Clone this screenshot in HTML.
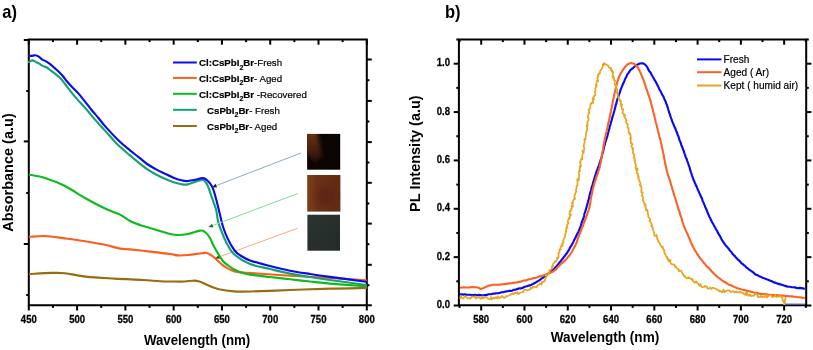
<!DOCTYPE html>
<html><head><meta charset="utf-8"><style>
html,body{margin:0;padding:0;background:#fff;width:813px;height:350px;overflow:hidden}
svg{display:block;will-change:transform}
text{font-family:"Liberation Sans",sans-serif;fill:#000}
.tl{font-size:11.5px;font-weight:bold;text-anchor:middle;stroke:#000;stroke-width:0.3px}
.tl2{font-size:11.5px;font-weight:bold;stroke:#000;stroke-width:0.3px}
.lg{font-size:10.1px;fill:#000;stroke:#000;stroke-width:0.2px}
.lgl{font-size:9.7px;fill:#000;stroke:#000;stroke-width:0.2px}
.b{font-weight:bold}
.sub{font-size:7px}
.axl{font-size:14.5px;font-weight:bold}
.pl{font-size:18px;font-weight:bold}
</style></head><body>
<svg width="813" height="350" viewBox="0 0 813 350">
<path d="M28.8,39.5H366.8V305.3H28.8Z" fill="none" stroke="#000" stroke-width="2" stroke-linecap="square" stroke-linejoin="miter"/>
<line x1="28.80" y1="305.3" x2="28.80" y2="310.5" stroke="#000" stroke-width="2"/>
<line x1="28.80" y1="39.5" x2="28.80" y2="44.7" stroke="#000" stroke-width="2"/>
<text transform="translate(28.80,323.0) scale(0.83,1)" class="tl">450</text>
<line x1="52.94" y1="305.3" x2="52.94" y2="307.90000000000003" stroke="#000" stroke-width="2"/>
<line x1="52.94" y1="39.5" x2="52.94" y2="42.1" stroke="#000" stroke-width="2"/>
<line x1="77.09" y1="305.3" x2="77.09" y2="310.5" stroke="#000" stroke-width="2"/>
<line x1="77.09" y1="39.5" x2="77.09" y2="44.7" stroke="#000" stroke-width="2"/>
<text transform="translate(77.09,323.0) scale(0.83,1)" class="tl">500</text>
<line x1="101.23" y1="305.3" x2="101.23" y2="307.90000000000003" stroke="#000" stroke-width="2"/>
<line x1="101.23" y1="39.5" x2="101.23" y2="42.1" stroke="#000" stroke-width="2"/>
<line x1="125.37" y1="305.3" x2="125.37" y2="310.5" stroke="#000" stroke-width="2"/>
<line x1="125.37" y1="39.5" x2="125.37" y2="44.7" stroke="#000" stroke-width="2"/>
<text transform="translate(125.37,323.0) scale(0.83,1)" class="tl">550</text>
<line x1="149.51" y1="305.3" x2="149.51" y2="307.90000000000003" stroke="#000" stroke-width="2"/>
<line x1="149.51" y1="39.5" x2="149.51" y2="42.1" stroke="#000" stroke-width="2"/>
<line x1="173.66" y1="305.3" x2="173.66" y2="310.5" stroke="#000" stroke-width="2"/>
<line x1="173.66" y1="39.5" x2="173.66" y2="44.7" stroke="#000" stroke-width="2"/>
<text transform="translate(173.66,323.0) scale(0.83,1)" class="tl">600</text>
<line x1="197.80" y1="305.3" x2="197.80" y2="307.90000000000003" stroke="#000" stroke-width="2"/>
<line x1="197.80" y1="39.5" x2="197.80" y2="42.1" stroke="#000" stroke-width="2"/>
<line x1="221.94" y1="305.3" x2="221.94" y2="310.5" stroke="#000" stroke-width="2"/>
<line x1="221.94" y1="39.5" x2="221.94" y2="44.7" stroke="#000" stroke-width="2"/>
<text transform="translate(221.94,323.0) scale(0.83,1)" class="tl">650</text>
<line x1="246.09" y1="305.3" x2="246.09" y2="307.90000000000003" stroke="#000" stroke-width="2"/>
<line x1="246.09" y1="39.5" x2="246.09" y2="42.1" stroke="#000" stroke-width="2"/>
<line x1="270.23" y1="305.3" x2="270.23" y2="310.5" stroke="#000" stroke-width="2"/>
<line x1="270.23" y1="39.5" x2="270.23" y2="44.7" stroke="#000" stroke-width="2"/>
<text transform="translate(270.23,323.0) scale(0.83,1)" class="tl">700</text>
<line x1="294.37" y1="305.3" x2="294.37" y2="307.90000000000003" stroke="#000" stroke-width="2"/>
<line x1="294.37" y1="39.5" x2="294.37" y2="42.1" stroke="#000" stroke-width="2"/>
<line x1="318.51" y1="305.3" x2="318.51" y2="310.5" stroke="#000" stroke-width="2"/>
<line x1="318.51" y1="39.5" x2="318.51" y2="44.7" stroke="#000" stroke-width="2"/>
<text transform="translate(318.51,323.0) scale(0.83,1)" class="tl">750</text>
<line x1="342.66" y1="305.3" x2="342.66" y2="307.90000000000003" stroke="#000" stroke-width="2"/>
<line x1="342.66" y1="39.5" x2="342.66" y2="42.1" stroke="#000" stroke-width="2"/>
<line x1="366.80" y1="305.3" x2="366.80" y2="310.5" stroke="#000" stroke-width="2"/>
<line x1="366.80" y1="39.5" x2="366.80" y2="44.7" stroke="#000" stroke-width="2"/>
<text transform="translate(366.80,323.0) scale(0.83,1)" class="tl">800</text>
<line x1="28.8" y1="40" x2="23.8" y2="40" stroke="#000" stroke-width="2"/>
<line x1="28.8" y1="91" x2="26.2" y2="91" stroke="#000" stroke-width="2"/>
<line x1="28.8" y1="141.4" x2="23.8" y2="141.4" stroke="#000" stroke-width="2"/>
<line x1="28.8" y1="193" x2="26.2" y2="193" stroke="#000" stroke-width="2"/>
<line x1="28.8" y1="244" x2="23.8" y2="244" stroke="#000" stroke-width="2"/>
<line x1="28.8" y1="295" x2="26.2" y2="295" stroke="#000" stroke-width="2"/>
<line x1="366.8" y1="59.5" x2="371.8" y2="59.5" stroke="#000" stroke-width="2"/>
<line x1="366.8" y1="80.2" x2="369.40000000000003" y2="80.2" stroke="#000" stroke-width="2"/>
<line x1="366.8" y1="100.9" x2="371.8" y2="100.9" stroke="#000" stroke-width="2"/>
<line x1="366.8" y1="121.5" x2="369.40000000000003" y2="121.5" stroke="#000" stroke-width="2"/>
<line x1="366.8" y1="142.1" x2="371.8" y2="142.1" stroke="#000" stroke-width="2"/>
<line x1="366.8" y1="162.5" x2="369.40000000000003" y2="162.5" stroke="#000" stroke-width="2"/>
<line x1="366.8" y1="182.8" x2="371.8" y2="182.8" stroke="#000" stroke-width="2"/>
<line x1="366.8" y1="203.5" x2="369.40000000000003" y2="203.5" stroke="#000" stroke-width="2"/>
<line x1="366.8" y1="223.6" x2="371.8" y2="223.6" stroke="#000" stroke-width="2"/>
<line x1="366.8" y1="244.2" x2="369.40000000000003" y2="244.2" stroke="#000" stroke-width="2"/>
<line x1="366.8" y1="264.8" x2="371.8" y2="264.8" stroke="#000" stroke-width="2"/>
<line x1="366.8" y1="285.2" x2="369.40000000000003" y2="285.2" stroke="#000" stroke-width="2"/>
<line x1="366.8" y1="305.3" x2="371.8" y2="305.3" stroke="#000" stroke-width="2"/>
<path d="M29.80,274.00 C33.40,273.82 45.53,273.03 51.40,272.90 C57.27,272.77 59.28,272.58 65.00,273.20 C70.72,273.82 77.48,275.70 85.70,276.60 C93.92,277.50 104.77,278.03 114.30,278.60 C123.83,279.17 135.28,279.57 142.90,280.00 C150.52,280.43 155.10,280.95 160.00,281.20 C164.90,281.45 168.20,281.45 172.30,281.50 C176.40,281.55 181.12,281.63 184.60,281.50 C188.08,281.37 190.73,280.70 193.20,280.70 C195.67,280.70 196.73,280.65 199.40,281.50 C202.07,282.35 205.93,284.50 209.20,285.80 C212.47,287.10 214.90,288.37 219.00,289.30 C223.10,290.23 228.63,291.03 233.80,291.40 C238.97,291.77 240.63,291.73 250.00,291.50 C259.37,291.27 276.67,290.48 290.00,290.00 C303.33,289.52 317.33,288.93 330.00,288.60 C342.67,288.27 360.00,288.10 366.00,288.00" fill="none" stroke="#9a6c10" stroke-width="2.15" stroke-linejoin="round" stroke-linecap="round"/>
<path d="M29.80,236.80 C32.33,236.67 39.13,235.73 45.00,236.00 C50.87,236.27 58.33,237.53 65.00,238.40 C71.67,239.27 78.33,240.13 85.00,241.20 C91.67,242.27 99.17,243.57 105.00,244.80 C110.83,246.03 115.83,247.83 120.00,248.60 C124.17,249.37 125.00,248.90 130.00,249.40 C135.00,249.90 143.33,250.83 150.00,251.60 C156.67,252.37 165.33,253.37 170.00,254.00 C174.67,254.63 175.00,255.23 178.00,255.40 C181.00,255.57 184.00,255.37 188.00,255.00 C192.00,254.63 198.85,253.53 202.00,253.20 C205.15,252.87 204.95,252.37 206.90,253.00 C208.85,253.63 210.85,254.80 213.70,257.00 C216.55,259.20 220.65,263.85 224.00,266.20 C227.35,268.55 230.12,269.98 233.80,271.10 C237.48,272.22 243.40,272.58 246.10,272.90 C248.80,273.22 242.68,272.53 250.00,273.00 C257.32,273.47 276.67,274.88 290.00,275.70 C303.33,276.52 317.33,277.13 330.00,277.90 C342.67,278.67 360.00,279.90 366.00,280.30" fill="none" stroke="#fa5f1e" stroke-width="2.15" stroke-linejoin="round" stroke-linecap="round"/>
<line x1="297.8" y1="228.2" x2="219.33" y2="256.86" stroke="#f4aa8a" stroke-width="1"/><polygon points="215.1,258.4 218.64,254.98 220.01,258.74" fill="#803018"/>
<path d="M29.80,174.80 C32.33,175.33 39.13,176.13 45.00,178.00 C50.87,179.87 58.33,182.67 65.00,186.00 C71.67,189.33 78.33,194.25 85.00,198.00 C91.67,201.75 99.17,205.73 105.00,208.50 C110.83,211.27 115.83,212.52 120.00,214.60 C124.17,216.68 126.67,219.27 130.00,221.00 C133.33,222.73 136.67,223.83 140.00,225.00 C143.33,226.17 146.67,227.00 150.00,228.00 C153.33,229.00 156.67,230.00 160.00,231.00 C163.33,232.00 167.00,233.33 170.00,234.00 C173.00,234.67 175.00,235.00 178.00,235.00 C181.00,235.00 184.33,234.73 188.00,234.00 C191.67,233.27 197.17,230.93 200.00,230.60 C202.83,230.27 203.33,230.77 205.00,232.00 C206.67,233.23 208.55,235.67 210.00,238.00 C211.45,240.33 211.55,242.17 213.70,246.00 C215.85,249.83 220.23,257.58 222.90,261.00 C225.57,264.42 227.80,265.08 229.70,266.50 C231.60,267.92 232.40,268.50 234.30,269.50 C236.20,270.50 238.48,271.65 241.10,272.50 C243.72,273.35 245.18,273.85 250.00,274.60 C254.82,275.35 263.33,276.22 270.00,277.00 C276.67,277.78 283.33,278.55 290.00,279.30 C296.67,280.05 303.33,280.78 310.00,281.50 C316.67,282.22 320.67,282.80 330.00,283.60 C339.33,284.40 360.00,285.85 366.00,286.30" fill="none" stroke="#0cbc1c" stroke-width="2.15" stroke-linejoin="round" stroke-linecap="round"/>
<path d="M29.00,62.10 C29.62,61.82 31.52,60.40 32.70,60.40 C33.88,60.40 34.95,61.52 36.10,62.10 C37.25,62.68 38.45,63.23 39.60,63.90 C40.75,64.57 41.87,65.53 43.00,66.10 C44.13,66.67 45.07,66.53 46.40,67.30 C47.73,68.07 49.47,69.57 51.00,70.70 C52.53,71.83 54.08,72.87 55.60,74.10 C57.12,75.33 58.77,76.77 60.10,78.10 C61.43,79.43 62.55,80.82 63.60,82.10 C64.65,83.38 64.40,83.25 66.40,85.80 C68.40,88.35 72.17,93.37 75.60,97.40 C79.03,101.43 83.88,106.42 87.00,110.00 C90.12,113.58 91.18,115.33 94.30,118.90 C97.42,122.47 101.90,127.22 105.70,131.40 C109.50,135.58 113.05,140.00 117.10,144.00 C121.15,148.00 126.42,152.30 130.00,155.40 C133.58,158.50 135.75,160.32 138.60,162.60 C141.45,164.88 144.25,167.15 147.10,169.10 C149.95,171.05 152.83,172.72 155.70,174.30 C158.57,175.88 161.43,177.32 164.30,178.60 C167.17,179.88 170.05,181.07 172.90,182.00 C175.75,182.93 179.05,183.77 181.40,184.20 C183.75,184.63 184.90,184.92 187.00,184.60 C189.10,184.28 192.08,182.93 194.00,182.30 C195.92,181.67 197.08,181.22 198.50,180.80 C199.92,180.38 201.42,179.72 202.50,179.80 C203.58,179.88 204.08,180.20 205.00,181.30 C205.92,182.40 206.83,183.63 208.00,186.40 C209.17,189.17 210.67,194.08 212.00,197.90 C213.33,201.72 214.98,205.38 216.00,209.30 C217.02,213.22 217.08,217.47 218.10,221.40 C219.12,225.33 220.57,229.08 222.10,232.90 C223.63,236.72 225.27,240.70 227.30,244.30 C229.33,247.90 230.52,251.22 234.30,254.50 C238.08,257.78 244.05,261.58 250.00,264.00 C255.95,266.42 263.33,267.40 270.00,269.00 C276.67,270.60 283.33,272.27 290.00,273.60 C296.67,274.93 303.33,275.93 310.00,277.00 C316.67,278.07 320.67,278.67 330.00,280.00 C339.33,281.33 360.00,284.17 366.00,285.00" fill="none" stroke="#14a274" stroke-width="2.15" stroke-linejoin="round" stroke-linecap="round"/>
<path d="M29.00,55.30 C29.43,55.40 30.60,55.90 31.60,55.90 C32.60,55.90 33.87,55.22 35.00,55.30 C36.13,55.38 37.25,55.73 38.40,56.40 C39.55,57.07 40.57,58.43 41.90,59.30 C43.23,60.17 45.07,60.83 46.40,61.60 C47.73,62.37 48.57,62.85 49.90,63.90 C51.23,64.95 52.88,66.57 54.40,67.90 C55.92,69.23 57.47,70.38 59.00,71.90 C60.53,73.42 62.37,75.52 63.60,77.00 C64.83,78.48 65.00,79.13 66.40,80.80 C67.80,82.47 70.08,84.98 72.00,87.00 C73.92,89.02 75.90,90.68 77.90,92.90 C79.90,95.12 81.72,97.45 84.00,100.30 C86.28,103.15 89.27,107.13 91.60,110.00 C93.93,112.87 95.65,114.68 98.00,117.50 C100.35,120.32 102.13,122.93 105.70,126.90 C109.27,130.87 115.35,137.40 119.40,141.30 C123.45,145.20 126.80,147.67 130.00,150.30 C133.20,152.93 135.75,154.82 138.60,157.10 C141.45,159.38 144.25,162.00 147.10,164.00 C149.95,166.00 152.83,167.53 155.70,169.10 C158.57,170.67 161.43,172.02 164.30,173.40 C167.17,174.78 170.05,176.25 172.90,177.40 C175.75,178.55 179.05,179.68 181.40,180.30 C183.75,180.92 184.90,181.15 187.00,181.10 C189.10,181.05 191.42,180.50 194.00,180.00 C196.58,179.50 200.45,178.17 202.50,178.10 C204.55,178.03 205.15,178.85 206.30,179.60 C207.45,180.35 208.30,181.15 209.40,182.60 C210.50,184.05 211.75,185.45 212.90,188.30 C214.05,191.15 215.17,195.52 216.30,199.70 C217.43,203.88 218.57,208.85 219.70,213.40 C220.83,217.95 221.77,222.80 223.10,227.00 C224.43,231.20 225.78,234.68 227.70,238.60 C229.62,242.52 232.55,247.73 234.60,250.50 C236.65,253.27 237.43,253.55 240.00,255.20 C242.57,256.85 245.00,258.60 250.00,260.40 C255.00,262.20 263.33,264.28 270.00,266.00 C276.67,267.72 283.33,269.37 290.00,270.70 C296.67,272.03 303.33,272.97 310.00,274.00 C316.67,275.03 320.67,275.62 330.00,276.90 C339.33,278.18 360.00,280.90 366.00,281.70" fill="none" stroke="#0c0ce8" stroke-width="2.15" stroke-linejoin="round" stroke-linecap="round"/>
<line x1="301" y1="153" x2="216.30" y2="185.58" stroke="#8eaac4" stroke-width="1"/><polygon points="212.1,187.2 215.58,183.72 217.02,187.45" fill="#202050"/>
<line x1="297.8" y1="193.5" x2="212.71" y2="225.52" stroke="#80dc98" stroke-width="1"/><polygon points="208.5,227.1 212.01,223.64 213.42,227.39" fill="#206838"/>
<defs>
<linearGradient id="g1" x1="0" y1="0" x2="1" y2="0.3"><stop offset="0" stop-color="#6e3a12"/><stop offset="0.35" stop-color="#4a2208"/><stop offset="0.55" stop-color="#160804"/><stop offset="1" stop-color="#0a0403"/></linearGradient>
<linearGradient id="g2" x1="0" y1="0" x2="1" y2="1"><stop offset="0" stop-color="#8a4816"/><stop offset="0.5" stop-color="#7a3814"/><stop offset="1" stop-color="#6e2c10"/></linearGradient>
<linearGradient id="g3" x1="0" y1="0" x2="1" y2="1"><stop offset="0" stop-color="#2c3431"/><stop offset="1" stop-color="#232a28"/></linearGradient>
<filter id="bl"><feGaussianBlur stdDeviation="2"/></filter>
</defs>
<clipPath id="c1"><rect x="307.1" y="133.9" width="33.1" height="35.8"/></clipPath>
<clipPath id="c2"><rect x="307.2" y="175" width="33.2" height="36.6"/></clipPath>
<linearGradient id="w1" x1="0" y1="0" x2="0" y2="1"><stop offset="0" stop-color="#6c3612"/><stop offset="0.6" stop-color="#4a200c"/><stop offset="1" stop-color="#1e0c06"/></linearGradient>
<linearGradient id="p2" x1="0" y1="0" x2="1" y2="0"><stop offset="0" stop-color="#7e4216"/><stop offset="0.3" stop-color="#6c3218"/><stop offset="1" stop-color="#622a14"/></linearGradient>
<filter id="bl2" x="-50%" y="-50%" width="200%" height="200%"><feGaussianBlur stdDeviation="2.2"/></filter>
<filter id="bl3" x="-50%" y="-50%" width="200%" height="200%"><feGaussianBlur stdDeviation="3"/></filter>
<rect x="307.1" y="133.9" width="33.1" height="35.8" fill="#0a0504"/>
<g clip-path="url(#c1)"><polygon points="303,130 317,130 322,157 314,163 303,150" fill="url(#w1)" filter="url(#bl2)"/></g>
<rect x="307.2" y="175" width="33.2" height="36.6" fill="url(#p2)"/>
<g clip-path="url(#c2)"><ellipse cx="326" cy="196" rx="9" ry="10" fill="#5a2412" opacity="0.7" filter="url(#bl3)"/></g>
<rect x="307.4" y="214.7" width="32.6" height="36" fill="url(#g3)"/>
<line x1="173" y1="62.5" x2="196.8" y2="62.5" stroke="#0c0ce8" stroke-width="2"/>
<line x1="173" y1="77.9" x2="196.8" y2="77.9" stroke="#fa5f1e" stroke-width="2"/>
<line x1="173" y1="93.8" x2="196.8" y2="93.8" stroke="#0cbc1c" stroke-width="2"/>
<line x1="173" y1="109.8" x2="196.8" y2="109.8" stroke="#14a274" stroke-width="2"/>
<line x1="173" y1="126" x2="196.8" y2="126" stroke="#9a6c10" stroke-width="2"/>
<text x="199" y="66.4" class="lgl"><tspan class="b">Cl:CsPbI</tspan><tspan class="b sub" dy="3.4">2</tspan><tspan class="b" dy="-3.4">Br</tspan>-Fresh</text>
<text x="199" y="82" class="lgl"><tspan class="b">Cl:CsPbI</tspan><tspan class="b sub" dy="3.4">2</tspan><tspan class="b" dy="-3.4">Br</tspan>- Aged</text>
<text x="199" y="97.5" class="lgl"><tspan class="b">Cl:CsPbI</tspan><tspan class="b sub" dy="3.4">2</tspan><tspan class="b" dy="-3.4">Br</tspan> -Recovered</text>
<text x="207" y="113.8" class="lgl"><tspan class="b">CsPbI</tspan><tspan class="b sub" dy="3.4">2</tspan><tspan class="b" dy="-3.4">Br</tspan>- Fresh</text>
<text x="207" y="129.5" class="lgl"><tspan class="b">CsPbI</tspan><tspan class="b sub" dy="3.4">2</tspan><tspan class="b" dy="-3.4">Br</tspan>- Aged</text>
<text transform="translate(197.1,345.3) scale(0.915,1)" class="axl" text-anchor="middle">Wavelength (nm)</text>
<text transform="translate(13.3,172.5) rotate(-90)" class="axl" text-anchor="middle">Absorbance (a.u)</text>
<text transform="translate(2.3,17.6) scale(0.92,1)" class="pl">a)</text>
<path d="M458.9,39.5H806.2V305.3H458.9Z" fill="none" stroke="#000" stroke-width="2" stroke-linecap="square" stroke-linejoin="miter"/>
<line x1="459.56" y1="305.3" x2="459.56" y2="307.90000000000003" stroke="#000" stroke-width="2"/>
<line x1="459.56" y1="39.5" x2="459.56" y2="42.1" stroke="#000" stroke-width="2"/>
<line x1="481.20" y1="305.3" x2="481.20" y2="310.5" stroke="#000" stroke-width="2"/>
<line x1="481.20" y1="39.5" x2="481.20" y2="44.7" stroke="#000" stroke-width="2"/>
<text transform="translate(481.20,323.0) scale(0.83,1)" class="tl">580</text>
<line x1="502.84" y1="305.3" x2="502.84" y2="307.90000000000003" stroke="#000" stroke-width="2"/>
<line x1="502.84" y1="39.5" x2="502.84" y2="42.1" stroke="#000" stroke-width="2"/>
<line x1="524.48" y1="305.3" x2="524.48" y2="310.5" stroke="#000" stroke-width="2"/>
<line x1="524.48" y1="39.5" x2="524.48" y2="44.7" stroke="#000" stroke-width="2"/>
<text transform="translate(524.48,323.0) scale(0.83,1)" class="tl">600</text>
<line x1="546.12" y1="305.3" x2="546.12" y2="307.90000000000003" stroke="#000" stroke-width="2"/>
<line x1="546.12" y1="39.5" x2="546.12" y2="42.1" stroke="#000" stroke-width="2"/>
<line x1="567.76" y1="305.3" x2="567.76" y2="310.5" stroke="#000" stroke-width="2"/>
<line x1="567.76" y1="39.5" x2="567.76" y2="44.7" stroke="#000" stroke-width="2"/>
<text transform="translate(567.76,323.0) scale(0.83,1)" class="tl">620</text>
<line x1="589.40" y1="305.3" x2="589.40" y2="307.90000000000003" stroke="#000" stroke-width="2"/>
<line x1="589.40" y1="39.5" x2="589.40" y2="42.1" stroke="#000" stroke-width="2"/>
<line x1="611.04" y1="305.3" x2="611.04" y2="310.5" stroke="#000" stroke-width="2"/>
<line x1="611.04" y1="39.5" x2="611.04" y2="44.7" stroke="#000" stroke-width="2"/>
<text transform="translate(611.04,323.0) scale(0.83,1)" class="tl">640</text>
<line x1="632.68" y1="305.3" x2="632.68" y2="307.90000000000003" stroke="#000" stroke-width="2"/>
<line x1="632.68" y1="39.5" x2="632.68" y2="42.1" stroke="#000" stroke-width="2"/>
<line x1="654.32" y1="305.3" x2="654.32" y2="310.5" stroke="#000" stroke-width="2"/>
<line x1="654.32" y1="39.5" x2="654.32" y2="44.7" stroke="#000" stroke-width="2"/>
<text transform="translate(654.32,323.0) scale(0.83,1)" class="tl">660</text>
<line x1="675.96" y1="305.3" x2="675.96" y2="307.90000000000003" stroke="#000" stroke-width="2"/>
<line x1="675.96" y1="39.5" x2="675.96" y2="42.1" stroke="#000" stroke-width="2"/>
<line x1="697.60" y1="305.3" x2="697.60" y2="310.5" stroke="#000" stroke-width="2"/>
<line x1="697.60" y1="39.5" x2="697.60" y2="44.7" stroke="#000" stroke-width="2"/>
<text transform="translate(697.60,323.0) scale(0.83,1)" class="tl">680</text>
<line x1="719.24" y1="305.3" x2="719.24" y2="307.90000000000003" stroke="#000" stroke-width="2"/>
<line x1="719.24" y1="39.5" x2="719.24" y2="42.1" stroke="#000" stroke-width="2"/>
<line x1="740.88" y1="305.3" x2="740.88" y2="310.5" stroke="#000" stroke-width="2"/>
<line x1="740.88" y1="39.5" x2="740.88" y2="44.7" stroke="#000" stroke-width="2"/>
<text transform="translate(740.88,323.0) scale(0.83,1)" class="tl">700</text>
<line x1="762.52" y1="305.3" x2="762.52" y2="307.90000000000003" stroke="#000" stroke-width="2"/>
<line x1="762.52" y1="39.5" x2="762.52" y2="42.1" stroke="#000" stroke-width="2"/>
<line x1="784.16" y1="305.3" x2="784.16" y2="310.5" stroke="#000" stroke-width="2"/>
<line x1="784.16" y1="39.5" x2="784.16" y2="44.7" stroke="#000" stroke-width="2"/>
<text transform="translate(784.16,323.0) scale(0.83,1)" class="tl">720</text>
<line x1="805.80" y1="305.3" x2="805.80" y2="307.90000000000003" stroke="#000" stroke-width="2"/>
<line x1="805.80" y1="39.5" x2="805.80" y2="42.1" stroke="#000" stroke-width="2"/>
<line x1="458.9" y1="305.50" x2="453.7" y2="305.50" stroke="#000" stroke-width="2"/>
<line x1="806.2" y1="305.50" x2="811.4000000000001" y2="305.50" stroke="#000" stroke-width="2"/>
<text transform="translate(450,308.10) scale(0.83,1)" class="tl2" text-anchor="end">0.0</text>
<line x1="458.9" y1="281.32" x2="456.29999999999995" y2="281.32" stroke="#000" stroke-width="2"/>
<line x1="806.2" y1="281.32" x2="808.8000000000001" y2="281.32" stroke="#000" stroke-width="2"/>
<line x1="458.9" y1="257.14" x2="453.7" y2="257.14" stroke="#000" stroke-width="2"/>
<line x1="806.2" y1="257.14" x2="811.4000000000001" y2="257.14" stroke="#000" stroke-width="2"/>
<text transform="translate(450,259.74) scale(0.83,1)" class="tl2" text-anchor="end">0.2</text>
<line x1="458.9" y1="232.96" x2="456.29999999999995" y2="232.96" stroke="#000" stroke-width="2"/>
<line x1="806.2" y1="232.96" x2="808.8000000000001" y2="232.96" stroke="#000" stroke-width="2"/>
<line x1="458.9" y1="208.78" x2="453.7" y2="208.78" stroke="#000" stroke-width="2"/>
<line x1="806.2" y1="208.78" x2="811.4000000000001" y2="208.78" stroke="#000" stroke-width="2"/>
<text transform="translate(450,211.38) scale(0.83,1)" class="tl2" text-anchor="end">0.4</text>
<line x1="458.9" y1="184.60" x2="456.29999999999995" y2="184.60" stroke="#000" stroke-width="2"/>
<line x1="806.2" y1="184.60" x2="808.8000000000001" y2="184.60" stroke="#000" stroke-width="2"/>
<line x1="458.9" y1="160.42" x2="453.7" y2="160.42" stroke="#000" stroke-width="2"/>
<line x1="806.2" y1="160.42" x2="811.4000000000001" y2="160.42" stroke="#000" stroke-width="2"/>
<text transform="translate(450,163.02) scale(0.83,1)" class="tl2" text-anchor="end">0.6</text>
<line x1="458.9" y1="136.24" x2="456.29999999999995" y2="136.24" stroke="#000" stroke-width="2"/>
<line x1="806.2" y1="136.24" x2="808.8000000000001" y2="136.24" stroke="#000" stroke-width="2"/>
<line x1="458.9" y1="112.06" x2="453.7" y2="112.06" stroke="#000" stroke-width="2"/>
<line x1="806.2" y1="112.06" x2="811.4000000000001" y2="112.06" stroke="#000" stroke-width="2"/>
<text transform="translate(450,114.66) scale(0.83,1)" class="tl2" text-anchor="end">0.8</text>
<line x1="458.9" y1="87.88" x2="456.29999999999995" y2="87.88" stroke="#000" stroke-width="2"/>
<line x1="806.2" y1="87.88" x2="808.8000000000001" y2="87.88" stroke="#000" stroke-width="2"/>
<line x1="458.9" y1="63.70" x2="453.7" y2="63.70" stroke="#000" stroke-width="2"/>
<line x1="806.2" y1="63.70" x2="811.4000000000001" y2="63.70" stroke="#000" stroke-width="2"/>
<text transform="translate(450,66.30) scale(0.83,1)" class="tl2" text-anchor="end">1.0</text>
<line x1="458.9" y1="39.52" x2="456.29999999999995" y2="39.52" stroke="#000" stroke-width="2"/>
<line x1="806.2" y1="39.52" x2="808.8000000000001" y2="39.52" stroke="#000" stroke-width="2"/>
<polyline points="459.9,294.3 460.9,294.4 462.1,294.2 463.2,294.6 464.7,294.4 466.5,294.6 468.2,294.7 469.9,294.7 471.7,295.1 473.5,295.1 475.4,294.9 477.2,295.2 478.8,294.9 480.6,295.1 482.1,295.3 483.7,295.2 485.2,295.0 486.8,294.9 488.4,294.3 489.7,294.2 491.4,294.1 492.8,293.8 494.2,293.6 495.6,293.4 497.1,293.3 498.6,293.1 500.1,292.8 501.6,292.2 503.2,292.3 504.8,291.8 506.3,291.4 507.9,291.3 509.3,290.8 510.9,290.9 512.3,290.5 513.9,289.8 515.4,289.7 517.1,289.0 518.5,288.6 519.9,288.3 521.4,288.3 522.8,287.9 524.1,287.0 525.7,286.5 527.0,286.2 528.6,285.6 529.9,285.4 531.4,284.8 533.0,283.9 534.3,283.2 535.7,282.5 537.0,281.7 538.5,280.8 539.8,280.0 541.2,278.8 542.8,277.9 544.1,276.7 545.4,275.9 546.7,274.9 548.1,273.7 549.3,272.9 550.4,272.0 551.5,271.3 552.8,269.7 554.2,269.0 555.2,267.6 556.3,266.5 557.1,265.4 558.0,264.5 558.9,263.2 560.1,261.8 561.0,261.0 561.8,259.6 562.9,258.5 563.6,257.4 564.7,256.0 565.6,254.8 566.7,253.5 567.7,251.8 568.6,250.4 569.3,249.2 569.9,247.8 570.6,246.6 571.4,245.7 572.0,244.1 572.9,242.9 573.6,241.4 574.2,239.9 575.1,238.5 575.7,237.1 576.4,235.7 577.2,234.1 577.7,233.1 578.5,231.7 579.0,230.3 579.7,228.5 580.2,227.4 580.8,225.8 581.2,224.2 581.7,222.6 582.2,221.3 582.8,219.7 583.2,218.6 583.7,217.3 584.1,215.7 584.3,214.3 584.8,212.7 585.3,211.4 585.7,210.2 586.2,208.3 586.6,207.0 587.1,205.4 587.5,203.5 587.9,202.2 588.2,200.7 588.8,199.1 589.2,197.2 589.5,196.1 589.8,194.3 590.2,192.9 590.7,191.4 591.2,189.5 591.5,188.0 592.0,186.3 592.6,185.1 592.9,183.4 593.4,181.7 593.8,180.3 594.4,178.7 594.7,177.1 595.2,175.8 595.8,174.2 596.1,172.6 596.7,171.3 597.3,169.7 597.8,168.4 598.3,166.9 598.8,165.6 599.3,164.2 599.8,162.6 600.3,161.5 600.6,160.0 601.1,158.8 601.6,157.2 601.9,156.3 602.1,155.0 602.3,153.9 602.8,152.6 603.3,150.9 603.7,148.9 604.2,146.6 604.5,145.3 605.0,144.0 605.2,142.7 605.8,141.3 606.0,140.2 606.5,138.6 607.1,137.0 607.6,135.2 608.0,133.2 608.5,131.8 608.9,129.9 609.4,128.6 609.7,126.6 610.3,125.2 610.7,123.2 611.1,121.9 611.7,120.2 612.0,118.8 612.4,117.4 612.7,116.2 613.2,115.0 613.8,112.6 614.3,111.0 614.7,109.2 615.1,107.7 615.6,106.1 615.7,105.0 616.3,103.7 616.5,102.5 616.9,100.9 617.3,99.6 617.8,98.0 618.4,96.8 618.8,95.2 619.4,93.7 620.0,91.9 620.4,90.3 621.0,89.0 621.5,87.6 622.0,86.5 622.5,85.2 623.2,83.5 623.9,82.0 624.6,80.4 625.1,79.0 625.9,77.5 626.5,76.5 627.1,74.9 627.6,74.0 628.8,72.6 629.8,70.9 630.6,69.8 631.7,69.0 633.0,68.1 634.1,67.0 635.5,65.8 637.1,64.7 638.3,64.3 639.6,63.5 641.6,63.3 643.1,63.4 644.9,64.4 645.7,65.3 646.7,66.4 647.5,67.6 648.2,69.3 649.1,70.9 650.1,71.9 651.0,73.4 651.8,75.0 652.5,76.3 653.4,77.8 654.2,79.3 655.2,80.8 655.8,81.9 656.6,83.4 657.4,85.1 658.1,86.3 658.9,88.1 659.5,89.7 660.3,90.8 661.1,92.2 661.7,93.8 662.4,95.0 663.2,96.2 663.8,97.5 664.5,99.5 665.5,101.3 665.9,102.4 666.3,103.8 667.0,105.1 667.4,106.7 668.0,108.4 668.4,110.0 669.0,111.8 669.5,113.5 670.0,114.8 670.5,116.3 671.1,118.1 671.5,119.2 672.0,120.7 672.7,122.5 673.3,123.7 673.7,125.0 674.3,126.4 674.7,127.4 675.4,128.6 676.0,130.5 676.7,131.9 677.1,133.2 677.6,134.7 678.1,135.7 678.7,137.2 679.1,138.8 679.5,140.3 680.2,141.6 680.8,143.1 681.2,144.6 681.7,146.1 682.4,147.5 682.9,149.2 683.5,150.1 684.0,151.9 684.4,153.3 685.0,154.7 685.6,156.6 686.1,158.0 686.7,159.1 687.2,160.8 687.8,162.3 688.2,163.5 688.7,165.2 689.2,166.3 689.7,167.9 690.0,169.2 690.5,170.7 690.9,172.3 691.5,173.7 691.9,175.3 692.4,176.7 693.1,178.2 693.6,180.2 694.3,181.2 694.7,182.6 695.4,183.8 695.8,185.2 696.7,186.6 697.2,188.1 697.8,189.5 698.5,191.0 699.1,192.4 699.8,194.1 700.4,195.3 701.1,196.9 701.8,198.1 702.3,199.7 702.8,201.5 703.5,202.5 704.1,204.1 704.8,205.6 705.2,206.9 706.0,208.5 706.6,210.0 707.1,211.2 707.5,212.5 708.2,213.9 708.6,214.8 709.5,217.0 710.2,218.1 710.7,219.5 711.4,220.8 712.1,222.4 713.0,223.5 713.7,225.0 714.5,226.6 715.3,227.7 716.0,229.4 717.0,230.6 717.7,232.4 718.4,233.6 719.3,235.1 720.2,236.3 720.8,237.8 721.4,239.0 722.1,240.2 723.0,241.6 724.4,243.6 725.0,244.4 726.0,245.8 727.0,246.9 728.0,248.0 729.1,249.3 730.2,251.0 731.4,252.0 732.4,253.8 733.7,255.1 734.9,256.1 735.9,257.5 736.8,258.4 737.6,259.3 739.3,260.7 740.5,262.0 741.6,263.4 742.8,264.1 743.9,265.3 745.1,265.9 746.2,267.3 747.5,268.2 748.8,269.3 750.2,270.4 751.5,271.1 752.6,272.0 753.9,272.9 754.8,274.0 756.7,275.1 758.2,275.6 759.9,276.6 761.3,277.1 762.6,277.8 763.9,278.3 765.5,278.7 767.4,279.6 768.6,280.0 769.9,280.6 771.3,281.0 772.7,281.8 774.1,282.4 775.8,282.9 777.3,283.6 778.6,283.9 780.4,284.4 781.8,284.7 783.3,285.2 785.1,285.9 786.7,286.4 788.3,286.7 790.1,286.8 791.6,287.2 793.2,287.2 794.9,287.4 796.6,287.9 798.2,288.1 799.9,287.9 801.6,288.1 802.9,288.4 804.0,288.6 804.9,288.6" fill="none" stroke="#0a0af2" stroke-width="2.15" stroke-linejoin="round"/>
<polyline points="460.0,287.8 461.1,287.6 462.3,287.5 464.0,287.3 465.7,287.5 467.7,287.5 469.7,287.4 471.5,287.1 473.2,287.1 474.8,287.2 476.0,287.3 478.5,287.7 479.9,288.7 481.0,288.9 483.0,288.3 484.9,287.4 486.3,286.7 487.6,286.1 489.3,285.6 491.1,285.3 492.4,284.8 493.7,284.7 495.2,284.8 496.7,284.8 498.3,284.6 499.9,284.7 501.6,284.3 503.3,284.2 505.2,284.0 506.9,283.9 508.4,283.4 510.1,283.4 511.7,283.2 513.1,282.9 514.5,282.6 517.0,282.5 518.3,282.0 519.6,281.9 521.0,281.4 522.5,281.0 524.1,280.5 525.9,280.4 527.6,279.8 529.3,279.3 531.1,278.9 532.8,278.3 534.3,278.0 535.9,277.7 537.6,277.3 539.2,276.4 540.9,276.2 542.6,275.6 544.3,275.3 545.7,274.7 547.3,274.1 548.9,273.7 550.2,272.9 551.5,272.3 553.1,271.6 554.4,270.4 555.8,269.6 556.7,268.3 557.7,267.1 558.8,266.3 559.9,264.9 561.0,263.8 562.2,263.1 563.4,262.1 564.5,260.8 565.5,260.1 566.5,258.8 567.6,257.6 568.6,256.3 569.5,255.4 570.4,254.0 571.4,252.5 572.3,250.9 573.1,249.2 574.0,247.7 574.7,246.6 575.5,244.9 576.2,243.6 576.6,242.3 577.0,241.5 577.4,239.8 578.0,238.0 579.0,235.9 579.3,234.5 579.9,233.7 580.4,232.1 580.8,231.0 581.4,229.5 582.0,227.7 582.6,226.5 583.3,224.8 583.8,223.2 584.5,221.5 585.1,219.8 585.7,218.5 586.3,216.6 586.9,215.4 587.3,213.7 587.7,212.3 588.3,211.1 588.7,209.8 589.1,208.1 589.7,206.3 590.0,204.4 590.3,202.7 590.5,201.4 590.6,200.1 590.8,198.7 591.1,197.2 591.4,195.7 591.9,194.3 592.2,192.7 592.4,191.2 592.8,189.3 593.3,187.9 593.6,186.3 594.0,184.9 594.5,183.0 595.0,181.5 595.5,179.9 595.9,178.5 596.3,177.0 597.0,175.7 597.4,174.3 598.0,172.8 598.5,170.9 599.0,169.5 599.5,167.7 600.0,165.6 600.2,164.4 600.5,163.1 600.9,161.9 601.1,160.3 601.3,158.9 601.6,157.4 601.8,156.0 602.1,154.4 602.4,153.2 602.6,151.6 602.9,150.1 603.2,148.3 603.4,146.6 603.8,145.1 604.0,143.7 604.3,141.9 604.7,140.6 604.8,138.9 605.2,137.4 605.6,135.9 605.8,134.5 606.2,132.9 606.6,131.4 606.9,129.6 607.4,128.3 607.6,126.6 608.0,125.3 608.2,123.3 608.7,122.0 609.1,120.6 609.3,119.0 609.6,117.8 609.9,116.3 610.1,115.1 610.5,113.3 611.0,111.4 611.2,109.6 611.6,108.2 611.9,106.4 612.3,105.0 612.5,103.3 612.7,102.1 613.0,100.5 613.4,99.0 613.7,97.8 614.1,96.2 614.3,94.3 614.7,92.7 615.1,91.2 615.5,89.5 616.0,87.6 616.4,86.1 616.7,84.4 617.0,83.0 617.5,81.7 618.0,80.1 618.3,79.0 618.9,76.9 619.7,75.5 620.4,73.9 621.1,72.7 621.9,71.5 622.6,70.3 623.6,69.0 624.5,67.7 625.6,66.3 626.7,65.3 627.7,64.2 629.5,63.6 631.2,63.0 632.9,63.4 634.2,63.7 635.5,65.0 636.7,66.3 638.0,67.8 638.7,68.9 639.3,70.2 639.8,71.4 640.6,72.8 641.2,74.4 641.8,75.8 642.5,77.5 643.0,78.8 643.7,80.4 644.1,82.1 644.8,83.6 645.4,85.5 645.9,87.0 646.3,88.8 647.0,90.3 647.5,91.9 647.9,93.3 648.3,94.4 649.0,96.4 649.4,97.3 650.2,100.0 650.5,101.0 650.9,102.0 651.1,103.5 651.5,104.9 651.9,106.2 652.3,108.1 652.8,109.6 653.1,111.0 653.5,112.8 654.1,114.5 654.5,116.3 654.8,118.0 655.3,119.6 655.6,121.3 655.9,122.8 656.5,124.5 656.8,126.1 657.1,127.5 657.6,128.9 657.9,130.7 658.3,132.1 658.7,133.6 659.1,135.1 659.5,136.7 659.9,138.1 660.3,139.6 660.7,141.0 661.0,142.7 661.3,144.0 661.6,145.8 662.0,147.4 662.4,149.0 662.8,150.5 663.0,151.9 663.4,153.9 663.8,155.3 663.9,157.2 664.3,158.7 664.6,160.1 664.9,161.9 665.2,163.2 665.4,164.8 665.8,166.0 665.9,167.2 666.4,168.6 666.8,170.9 667.3,172.3 667.7,173.5 668.0,175.0 668.4,176.1 669.0,177.8 669.8,179.8 670.1,181.2 670.5,182.5 670.9,183.9 671.3,185.5 671.9,187.1 672.3,188.8 672.8,190.5 673.4,192.3 673.9,193.9 674.3,195.5 674.9,197.1 675.4,198.7 675.9,200.3 676.3,201.8 676.6,202.9 677.2,204.8 677.8,206.7 678.2,208.5 678.7,209.8 679.1,210.9 679.7,212.2 679.9,213.9 680.3,215.0 681.0,216.7 681.6,218.5 681.9,220.1 682.4,221.8 683.1,223.5 683.5,225.1 684.1,226.4 684.7,227.8 685.3,229.3 685.9,230.9 686.6,232.3 687.2,233.4 687.9,235.0 688.5,236.4 689.1,237.7 689.7,239.3 690.3,240.5 690.7,242.2 691.5,243.5 692.1,245.0 692.8,246.4 693.6,247.7 694.4,249.4 695.2,250.8 696.1,252.1 697.0,253.7 698.0,255.0 698.8,256.3 699.8,257.8 701.1,259.4 702.1,260.6 703.1,261.9 704.2,263.2 705.1,264.3 706.2,265.7 707.1,266.7 708.7,267.9 709.5,268.8 710.3,269.8 711.4,271.0 712.6,272.2 713.6,273.5 714.8,274.5 716.0,275.6 717.0,276.6 718.6,277.9 720.0,278.7 721.5,280.0 722.9,281.0 724.2,281.8 725.8,282.4 727.2,283.6 728.5,284.4 730.1,284.9 731.4,285.5 732.9,286.3 734.3,286.9 735.8,287.4 737.1,288.2 738.6,288.5 740.1,288.9 741.4,289.5 742.8,289.7 744.7,290.1 746.4,290.6 748.0,290.9 749.7,291.4 751.4,291.7 753.1,292.2 755.0,292.7 756.7,292.8 758.3,293.3 759.9,293.9 761.6,294.1 762.8,294.0 764.4,294.1 767.4,294.4 768.3,294.8 769.6,294.9 771.0,294.9 772.4,295.1 774.0,295.0 775.7,295.2 777.3,295.1 779.1,295.2 780.9,295.5 782.4,295.6 784.1,295.7 785.8,295.9 787.3,296.0 788.8,296.3 790.1,296.4 792.0,296.3 793.8,296.8 795.6,296.8 797.3,297.2 799.0,297.3 800.5,297.3 801.9,297.7 803.1,297.8 804.1,298.1 804.9,298.3" fill="none" stroke="#fa6226" stroke-width="2.1" stroke-linejoin="round"/>
<polyline points="459.4,298.3 460.1,298.1 460.9,295.8 462.2,298.3 463.6,298.5 464.8,295.9 464.9,296.1 466.6,297.3 467.8,298.4 469.4,298.1 470.5,297.7 470.5,298.9 471.8,296.4 474.2,297.1 475.3,296.3 475.8,298.5 476.8,297.9 479.4,297.0 480.2,298.7 481.2,298.8 482.3,296.4 482.7,298.1 485.2,297.1 485.8,296.8 487.4,297.9 488.0,298.6 488.5,298.8 490.7,299.2 491.0,297.2 491.9,299.3 493.4,297.6 494.6,298.5 495.4,297.3 497.2,298.6 497.5,296.3 499.6,298.3 500.2,297.1 501.9,297.0 501.9,295.8 503.2,297.1 504.4,298.0 506.0,296.2 507.1,296.4 508.2,295.8 509.1,295.5 510.8,294.2 511.8,294.3 513.0,293.2 513.6,294.1 515.1,293.0 515.5,292.4 517.1,293.5 517.3,292.0 518.7,294.1 520.3,292.5 521.2,292.5 523.2,292.2 523.1,291.1 525.1,289.5 526.8,290.0 527.1,290.6 528.7,289.8 530.2,289.5 530.5,287.7 531.8,288.3 532.7,288.0 532.7,286.6 533.8,286.5 536.4,287.4 536.6,287.2 538.2,284.6 539.2,284.6 540.3,283.7 539.9,283.4 541.6,284.5 542.0,281.5 542.5,282.4 542.6,282.2 544.6,281.2 545.1,279.2 546.3,276.9 546.0,275.3 546.3,276.6 546.8,275.4 547.8,274.9 549.0,273.2 549.7,270.1 549.4,270.1 550.2,270.0 551.5,269.2 552.2,268.0 551.8,266.5 553.0,266.5 553.0,264.0 554.0,262.8 555.0,261.2 555.2,261.8 555.0,261.2 556.0,261.5 557.2,259.2 557.6,259.2 556.9,257.9 558.4,257.4 558.7,254.3 558.2,254.0 558.6,253.1 559.5,252.2 559.6,249.4 560.8,249.5 560.3,248.2 560.9,247.2 561.5,245.0 562.6,245.9 562.7,243.0 562.2,243.4 563.7,241.9 563.1,240.7 563.9,238.7 564.3,238.0 564.6,237.9 565.4,234.8 565.0,236.3 565.4,234.0 566.0,231.0 566.2,231.8 566.1,229.6 566.4,227.9 566.5,227.2 567.4,227.9 567.0,226.8 567.2,224.8 567.2,224.6 568.5,223.1 567.8,222.1 568.1,220.2 569.2,217.5 569.4,219.1 570.0,216.3 570.5,215.5 570.9,214.3 569.6,215.1 569.6,211.8 570.8,210.3 570.8,211.1 571.1,208.6 571.6,209.2 571.7,207.6 571.6,205.8 573.1,206.5 571.9,202.9 572.7,203.6 573.1,200.3 574.4,198.9 575.1,198.5 575.2,198.7 574.3,197.5 574.9,194.7 574.5,195.2 575.6,192.8 576.3,191.4 575.9,189.9 576.0,191.3 576.5,187.8 576.3,188.1 576.6,187.7 576.5,186.4 577.6,185.0 577.4,181.3 577.4,181.8 577.3,179.1 578.7,180.4 579.0,179.2 578.7,178.1 579.1,175.8 578.9,172.8 578.5,172.3 579.3,170.6 580.3,170.8 580.1,170.5 579.5,169.3 580.8,166.1 579.6,166.6 581.0,165.5 580.4,163.8 580.1,161.6 580.7,162.3 580.3,162.1 580.3,161.5 581.1,159.2 582.3,159.4 582.1,158.3 582.3,156.8 582.1,156.2 583.0,152.8 583.7,152.7 582.5,151.6 582.6,150.6 583.8,151.8 583.9,150.2 584.3,148.6 583.8,145.9 583.6,145.6 583.9,145.0 584.3,143.2 584.8,142.0 584.4,139.6 585.4,138.1 585.6,139.3 585.3,138.0 585.8,136.7 585.9,134.9 586.3,131.9 586.2,132.1 586.3,131.2 587.1,130.5 587.1,127.2 587.1,127.6 587.7,124.4 586.6,126.3 587.1,124.3 587.6,122.1 587.5,121.5 588.5,120.2 588.4,118.3 588.4,118.2 588.6,117.9 587.7,117.1 588.7,113.8 588.7,112.3 588.5,113.7 589.4,112.9 588.7,109.6 589.2,110.0 590.1,107.8 590.5,107.5 590.2,107.1 590.3,105.6 590.9,103.0 591.8,103.7 592.4,102.4 593.3,102.8 592.5,99.3 594.1,99.3 593.0,97.6 594.2,96.6 593.9,97.1 594.1,95.8 595.3,95.1 595.0,93.3 594.8,92.1 595.5,90.7 595.5,90.0 595.3,88.6 596.8,85.2 595.8,87.1 595.8,85.5 596.8,82.0 597.1,80.8 597.8,80.4 598.3,81.0 597.3,78.2 597.7,78.2 597.9,74.9 598.3,76.4 598.8,73.6 599.5,73.4 599.8,73.7 600.0,71.2 601.4,69.3 600.8,70.0 601.6,69.0 603.0,66.2 602.8,64.4 604.2,64.6 603.9,63.1 604.2,64.8 605.3,64.0 607.3,65.4 608.2,65.6 609.0,67.6 611.2,68.1 610.6,70.0 610.9,68.6 611.9,71.8 612.2,70.6 613.2,72.0 612.5,75.9 613.6,76.4 612.7,77.7 613.5,76.1 614.4,80.2 613.5,79.8 615.1,80.5 614.5,83.1 615.0,85.0 615.9,85.8 616.0,84.9 616.3,87.2 616.2,88.2 616.3,88.1 617.5,89.7 616.6,92.8 617.5,92.9 617.6,92.3 617.9,95.6 618.1,97.0 618.5,98.1 618.6,97.7 618.8,97.8 619.7,99.5 620.0,100.0 619.9,101.2 621.1,101.4 620.6,104.8 621.2,103.9 622.2,104.6 621.2,105.5 622.1,109.5 622.3,109.2 623.3,109.4 622.4,112.2 622.8,112.7 623.2,113.9 624.6,114.5 624.0,116.1 625.0,115.3 624.6,117.5 625.4,118.3 626.0,119.4 626.8,120.8 626.0,121.1 626.2,122.7 627.8,124.6 627.4,127.5 628.6,128.1 627.8,127.8 628.5,128.8 628.6,129.8 628.7,132.6 629.6,132.7 629.6,134.4 630.2,133.6 630.7,136.0 630.2,138.7 631.1,137.9 630.1,139.2 631.0,140.1 630.7,141.8 631.1,143.5 631.8,143.1 632.5,144.7 631.5,145.2 631.6,146.8 633.2,149.5 633.0,148.1 632.5,149.3 633.0,151.8 632.6,152.4 633.5,154.0 634.3,154.3 634.2,155.0 634.1,157.2 633.7,158.0 634.7,158.1 634.5,161.3 634.9,160.4 635.0,162.6 635.4,163.3 635.6,164.0 636.1,166.4 635.6,167.6 636.2,170.0 637.5,168.4 637.3,170.2 636.6,173.0 638.1,173.8 637.9,175.5 637.9,175.5 638.3,177.1 638.8,176.2 638.0,177.9 638.7,178.1 639.5,181.3 639.5,181.6 639.8,181.7 640.2,182.5 640.6,185.0 639.8,184.6 640.6,186.4 641.0,186.2 641.6,188.4 641.2,190.8 641.7,190.7 641.4,191.8 641.2,192.1 642.7,192.6 641.8,196.0 642.5,196.0 643.1,197.7 642.9,199.0 642.7,200.4 643.5,200.8 643.8,202.3 644.2,203.0 644.4,204.9 645.5,204.1 645.8,207.6 645.3,206.4 646.7,209.9 645.7,210.4 647.4,209.8 647.5,211.0 647.8,212.8 647.7,212.7 648.4,215.7 648.2,214.8 648.2,216.6 650.1,219.3 650.3,220.5 649.5,220.5 651.2,223.1 651.6,224.1 651.5,225.0 652.2,224.9 651.2,225.5 651.5,226.4 652.7,227.3 652.7,228.1 653.4,230.7 654.2,233.3 653.9,232.3 654.3,235.6 655.7,235.9 656.4,234.8 657.0,236.9 657.0,238.0 657.6,238.6 657.2,239.3 658.4,240.8 658.2,241.8 659.6,242.8 660.4,245.2 661.1,245.8 661.3,246.9 663.0,247.0 662.0,246.4 663.6,249.9 663.9,249.8 664.1,249.7 664.6,253.6 664.4,253.5 665.9,254.8 665.5,254.5 666.5,257.6 667.2,256.8 667.7,259.3 667.8,260.0 668.5,259.1 668.6,261.5 670.5,260.0 670.2,261.7 671.2,263.9 672.0,264.3 673.5,264.4 674.8,265.5 675.2,267.1 675.8,266.4 677.6,269.1 677.8,269.1 678.7,269.4 678.7,271.1 680.9,270.5 681.9,272.2 682.8,274.3 682.5,273.2 684.3,276.5 685.1,275.9 685.5,277.2 686.8,278.0 686.9,278.5 688.9,278.1 688.4,277.3 690.5,278.5 692.1,279.9 692.5,278.8 693.1,281.3 694.7,282.6 694.6,282.1 696.7,281.6 696.3,282.6 698.4,283.8 699.4,285.9 700.6,283.9 701.4,286.7 702.5,287.2 703.8,286.7 704.9,286.8 704.8,286.2 707.2,286.6 707.5,288.6 708.9,288.6 709.7,288.1 710.1,287.4 711.3,288.9 712.9,287.8 714.2,288.2 714.8,288.3 716.0,288.9 717.8,289.9 718.9,290.3 719.3,291.7 720.4,290.8 722.2,292.4 723.6,289.5 724.4,292.4 726.3,290.7 726.3,290.5 728.6,290.3 730.0,290.7 730.9,292.2 731.4,291.8 733.3,291.1 734.4,292.4 736.3,291.4 736.2,292.2 738.1,292.3 739.9,291.5 740.5,292.5 741.2,292.6 742.8,292.5 744.6,294.7 746.1,292.5 746.3,295.2 747.1,292.7 748.3,295.8 750.2,294.4 750.8,296.1 753.4,295.7 754.5,295.5 754.8,294.5 756.1,294.5 757.4,294.3 758.1,297.2 760.6,297.0 761.0,295.9 762.4,297.1 763.2,296.3 764.7,297.3 765.6,294.7 767.1,297.5 767.8,296.7 768.9,295.6 770.9,295.0 771.9,296.6 773.1,297.1 775.1,295.6 776.2,297.1 777.0,296.6 778.0,297.1 779.0,295.6 780.7,296.8 781.2,297.2 781.7,296.7 782.6,297.7 782.4,299.2 782.7,300.2 783.7,302.1 784.7,304.1 784.1,304.3 784.9,302.5 784.7,302.1 785.3,298.5 785.7,297.1" fill="none" stroke="#e8a61e" stroke-width="1.7" stroke-linejoin="round"/>
<line x1="785" y1="304" x2="805" y2="304" stroke="#6a70e8" stroke-width="1"/>
<line x1="697" y1="59.4" x2="721.5" y2="59.4" stroke="#0a0af2" stroke-width="2"/>
<text x="723.6" y="62.8" class="lg">Fresh</text>
<line x1="697" y1="72.2" x2="721.5" y2="72.2" stroke="#fa6226" stroke-width="2"/>
<text x="723.6" y="75.6" class="lg">Aged ( Ar)</text>
<line x1="697" y1="85.5" x2="721.5" y2="85.5" stroke="#e8a61e" stroke-width="2"/>
<text x="723.6" y="88.9" class="lg">Kept ( humid air)</text>
<text transform="translate(604.9,341.9) scale(0.935,1)" class="axl" text-anchor="middle">Wavelength (nm)</text>
<text transform="translate(420.2,153.6) rotate(-90)" class="axl" text-anchor="middle">PL Intensity (a.u)</text>
<text transform="translate(444.9,17.6) scale(0.92,1)" class="pl">b)</text>
</svg></body></html>
